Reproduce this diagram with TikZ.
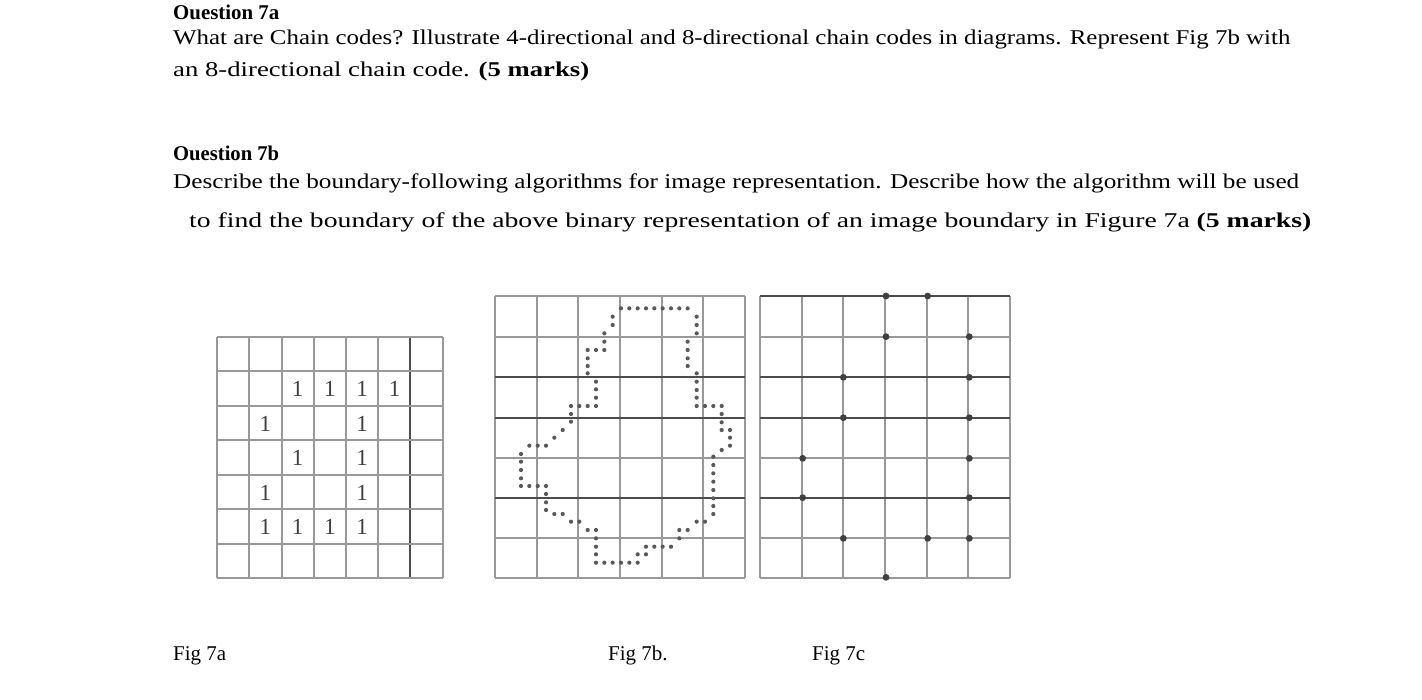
\documentclass[tikz,border=0pt]{standalone}
\usepackage{fontspec}
\usepackage{graphicx}
\setmainfont{Liberation Serif}
\newcommand{\fitw}[2]{\resizebox{#1}{\height}{#2}}
\begin{document}
\begin{tikzpicture}[x=1pt,y=-1pt,
  txt/.style={anchor=base west,inner sep=0pt,font=\fontsize{21}{24}\selectfont},
  gl/.style={draw=black!40,line width=1.2pt},
  gd/.style={draw=black!70,line width=1.3pt},
  sdot/.style={fill=black!65},
  bdot/.style={fill=black!75}]
\useasboundingbox (0,0) rectangle (1422,699);
\node[txt] (q1) at (173,19) {\fitw{106pt}{\textbf{Ouestion 7a}}};
\node[txt] (l1) at (173,44) {\fitw{1117pt}{What are Chain codes? Illustrate 4-directional and 8-directional chain codes in diagrams. Represent Fig 7b with}};
\node[txt] (l2) at (173,76) {\fitw{416pt}{an 8-directional chain code. \textbf{(5 marks)}}};
\node[txt] (q2) at (173,160) {\fitw{106pt}{\textbf{Ouestion 7b}}};
\node[txt] (l3) at (173,188) {\fitw{1126pt}{Describe the boundary-following algorithms for image representation. Describe how the algorithm will be used}};
\node[txt] (l4) at (189,227) {\fitw{1122pt}{to find the boundary of the above binary representation of an image boundary in Figure 7a \textbf{(5 marks)}}};
\node[txt] (c1) at (173,660) {Fig 7a};
\node[txt] (c2) at (608,660) {Fig 7b.};
\node[txt] (c3) at (812,660) {Fig 7c};
% Fig 7a
\foreach \x in {217,249,282,314,346,378,443} \draw[gl] (\x,337) -- (\x,578);
\draw[gd] (410,337) -- (410,578);
\foreach \y in {337,371,406,440,475,509,544,578} \draw[gl] (217,\y) -- (443,\y);
\foreach \c/\r in {2/1,3/1,4/1,5/1,1/2,4/2,2/3,4/3,1/4,4/4,1/5,2/5,3/5,4/5}
  \node[font=\fontsize{23}{24}\selectfont,text=black!75] (n\c\r) at ({217+32.3*\c+16},{337+34.4*\r+18}) {1};
% Fig 7b
\foreach \x in {495,537,578,620,662,703,745} \draw[gl] (\x,296) -- (\x,578);
\foreach \y in {296,337,458,538,578} \draw[gl] (495,\y) -- (745,\y);
\foreach \y in {377,418,498} \draw[gd] (495,\y) -- (745,\y);
\foreach \a/\b in {393/55,418/55,443/55,468/55,493/55,518/55,543/55,568/55,593/55,
620/80,620/105,620/130,593/155,593/180,593/205,593/228,620/250,620/275,620/300,620/323,620/348,
645/348,670/348,695/348,695/372,695/397,695/420,720/420,720/443,720/467,695/480,
670/500,670/525,670/550,670/575,670/600,670/625,670/648,670/672,645/695,620/695,593/720,568/720,568/745,
543/770,518/770,493/770,468/770,468/793,443/793,
318/818,343/818,368/818,393/818,418/818,443/818,
318/793,318/770,318/745,318/720,293/720,268/695,243/695,218/672,193/672,
168/660,168/637,168/612,168/588,143/588,118/588,93/588,93/565,93/540,93/515,93/492,
118/467,143/467,168/467,193/443,218/420,243/395,243/372,243/348,268/348,293/348,318/348,
318/323,318/298,318/275,293/250,293/228,293/205,293/180,318/180,343/180,343/155,343/130,368/105,368/80}
  \fill[sdot] ({490+\a/3},{290+\b/3}) circle (2.1);
% Fig 7c
\foreach \x in {760,802,843,885,927,968,1010} \draw[gl] (\x,296) -- (\x,578);
\foreach \y in {337,458,538,578} \draw[gl] (760,\y) -- (1010,\y);
\foreach \y in {296,377,418,498} \draw[gd] (760,\y) -- (1010,\y);
\foreach \a/\b in {393/18,518/18,393/140,643/140,265/262,643/262,265/383,643/383,143/505,643/505,143/623,643/623,265/745,518/745,643/745,393/862}
  \fill[bdot] ({755+\a/3},{290+\b/3}) circle (3.4);
\end{tikzpicture}
\end{document}
